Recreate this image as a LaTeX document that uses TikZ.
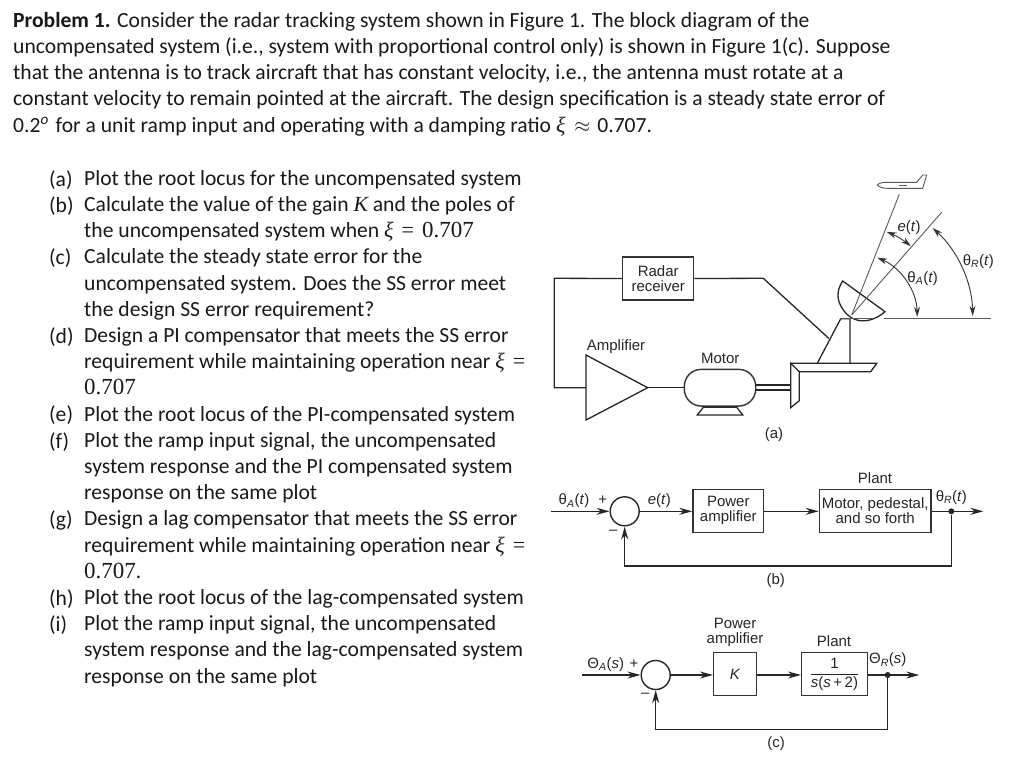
\documentclass[tikz,border=0pt]{standalone}
\usepackage[no-math]{fontspec}
\setmainfont{Carlito}
\newfontfamily\figfont{Liberation Sans}
\newfontfamily\eqfont{Liberation Serif}
\usetikzlibrary{arrows.meta}
\newcommand{\sigsub}[3]{#1\textsubscript{\textit{#2}}(\textit{#3})}
\newcommand{\eqxi}{{\eqfont\fontsize{22}{26.2}\selectfont\itshape ξ}}
\newcommand{\eqval}{{\eqfont\fontsize{23}{26.2}\selectfont 0.707}}
\newcommand{\eqsign}{\hspace{8pt}{\eqfont\fontsize{22}{26.2}\selectfont =}\hspace{8pt}}

\begin{document}
\begin{tikzpicture}[
x=1pt, y=1pt,
bodytext/.style={
	anchor=north west, inner sep=0pt, align=left, text=black!90,
	font=\fontsize{21.6}{26.2}\selectfont,
},
figlabel/.style={inner sep=0pt, align=center, text=black!85, font=\figfont\fontsize{15}{15}\selectfont},
blockbox/.style={draw=black!80, line width=1.4pt, inner sep=0pt, align=center, text=black!85, font=\figfont\fontsize{15}{15}\selectfont},
sumnode/.style={circle, draw=black!85, line width=1.4pt, inner sep=0pt, minimum size=29pt},
takeoff/.style={circle, fill=black!85, inner sep=0pt, minimum size=6pt},
wire/.style={draw=black!85, line width=1.3pt},
thinwire/.style={draw=black!65, line width=0.9pt},
sigline/.style={draw=black!85, line width=1.3pt, -{Stealth[length=13pt,width=7pt]}},
anglearc/.style={draw=black!80, line width=0.9pt, {Stealth[length=10pt,width=6pt]}-{Stealth[length=10pt,width=6pt]}},
]
\useasboundingbox (0,0) rectangle (1024,-757);

\node[bodytext] (problem) at (13,-12) {%
    \textbf{Problem 1.} Consider the radar tracking system shown in Figure 1. The block diagram of the\\
    uncompensated system (i.e., system with proportional control only) is shown in Figure 1(c). Suppose\\
    that the antenna is to track aircraft that has constant velocity, i.e., the antenna must rotate at a\\
    constant velocity to remain pointed at the aircraft. The design specification is a steady state error of\\
    0.2\textsuperscript{\textit{o}}\hspace{2pt} for a unit ramp input and operating with a damping ratio \eqxi\hspace{4pt} $\approx$\hspace{2pt} 0.707.
    };
\node[bodytext] (itemtags) at (49,-170) {%
    (a)\\(b)\\ \mbox{}\\(c)\\ \mbox{}\\ \mbox{}\\(d)\\ \mbox{}\\ \mbox{}\\(e)\\(f)\\ \mbox{}\\ \mbox{}\\(g)\\ \mbox{}\\ \mbox{}\\(h)\\(i)
    };
\node[bodytext] (itemtext) at (84,-170) {%
    Plot the root locus for the uncompensated system\\
    Calculate the value of the gain {\eqfont\itshape K} and the poles of\\
    the uncompensated system when \eqxi\eqsign\eqval\\
    Calculate the steady state error for the\\
    uncompensated system. Does the SS error meet\\
    the design SS error requirement?\\
    Design a PI compensator that meets the SS error\\
    requirement while maintaining operation near \eqxi\eqsign\\
    \eqval\\
    Plot the root locus of the PI-compensated system\\
    Plot the ramp input signal, the uncompensated\\
    system response and the PI compensated system\\
    response on the same plot\\
    Design a lag compensator that meets the SS error\\
    requirement while maintaining operation near \eqxi\eqsign\\
    \eqval.\\
    Plot the root locus of the lag-compensated system\\
    Plot the ramp input signal, the uncompensated\\
    system response and the lag-compensated system\\
    response on the same plot
    };

% figure (a)
\node[blockbox, minimum width=71pt, minimum height=43pt] (radar) at (658.2,-278.5) {Radar\\receiver};
\coordinate (ampin) at (586,-387.7);
\coordinate (ampout) at (647.7,-387.7);
\node[blockbox, rounded corners=17pt, minimum width=71.4pt, minimum height=36.7pt] (motor) at (720,-387.7) {};
\coordinate (loopa) at (554.3,-278.3);
\coordinate (loopb) at (554.3,-387.7);
\coordinate (bend) at (763.3,-278.3);
\coordinate (pedestal) at (828.7,-338.3);
\coordinate (focus) at (851.7,-315);
\coordinate (beamA) at (899.3,-194.3);
\coordinate (beamR) at (941.7,-212.3);
\draw[wire] (radar.west) -- (loopa) -- (loopb) -- (ampin);
\draw[wire] (radar.east) -- (bend) -- (pedestal);
\draw[wire] (586,-355) -- (ampout) -- (586,-420) -- cycle;
\draw[wire] (ampout) -- (motor.west);
\draw[wire] (697.3,-415) -- (742.7,-415) -- (736.7,-407.3) -- (703.3,-407.3) -- cycle;
\draw[wire] (755.7,-385) -- (790.7,-385) (755.7,-390) -- (790.7,-390);
\draw[wire] (790.7,-363.3) -- (790.7,-407.7) -- (799.3,-400.7) -- (799.3,-371.7) -- cycle;
\draw[wire] (790.7,-363.3) -- (876.7,-363.3) -- (870.7,-371.7) -- (799.3,-371.7);
\draw[wire] (817.3,-363.3) -- (840.7,-318.7) -- (850,-318.7) -- (850,-363.3);
\draw[wire] (842.7,-281) -- (885,-311.7) .. controls (872,-323) and (853,-326) .. (842,-308) .. controls (837,-300) and (836,-291) .. cycle;
\draw[thinwire] (840,-318.7) -- (873,-318.7) (884,-318.7) -- (990.7,-318.7);
\draw[thinwire] (focus) -- (beamA);
\draw[thinwire] (focus) -- (beamR);
\draw[anglearc] (851.7,-318)++(48:121) arc (48:1:121);
\draw[anglearc] (851.7,-318)++(67:65.5) arc (67:1:65.5);
\draw[anglearc] (851.7,-318)++(68:93) arc (68:50.5:93);
\draw[thinwire, fill=white] (877.3,-185) .. controls (879,-183) and (883,-182.3) .. (886.7,-182.3) -- (916.7,-182.3) -- (922.7,-175) -- (926.7,-175) -- (922.7,-188.3) -- (886.7,-188.3) .. controls (883,-188.3) and (879,-187) .. cycle;
\draw[thinwire] (899,-185.3) -- (906.7,-185.3);
\node[figlabel] (amplabel) at (616,-347) {Amplifier};
\node[figlabel] (motorlabel) at (720.3,-358.5) {Motor};
\node[figlabel] (errlabel) at (909,-227.3) {\textit{e}(\textit{t})};
\node[figlabel] (thetaA) at (922.7,-278.3) {\sigsub{θ}{A}{t}};
\node[figlabel] (thetaR) at (978.3,-261.7) {\sigsub{θ}{R}{t}};
\node[figlabel] (capa) at (774,-435) {(a)};

% figure (b)
\coordinate (inb) at (550.7,-511.3);
\coordinate (outb) at (983.3,-511.3);
\node[sumnode] (sumb) at (624.7,-511.3) {};
\node[blockbox, minimum width=70.7pt, minimum height=43pt] (powerb) at (728.3,-510.8) {Power\\amplifier};
\node[blockbox, minimum width=111.7pt, minimum height=43pt] (plantb) at (875.2,-510.8) {Motor, pedestal,\\and so forth};
\node[takeoff] (dotb) at (951.3,-511.3) {};
\coordinate (cornerb) at (951.3,-566);
\coordinate (backb) at (624.7,-566);
\draw[sigline] (inb) -- (sumb);
\draw[sigline] (sumb) -- (powerb.west |- sumb);
\draw[sigline] (powerb.east |- sumb) -- (plantb.west |- sumb);
\draw[sigline] (plantb.east |- sumb) -- (outb);
\draw[sigline] (dotb) -- (cornerb) -- (backb) -- (sumb);
\node[figlabel] at (574,-501) (inlabelb) {\sigsub{θ}{A}{t}};
\node[figlabel] at (602.7,-500) (plusb) {+};
\node[figlabel] at (613.3,-532.7) (minusb) {–};
\node[figlabel] at (659.3,-501) (errb) {\textit{e}(\textit{t})};
\node[figlabel] at (875,-478.3) (plantlabelb) {Plant};
\node[figlabel] at (951.3,-497.7) (outlabelb) {\sigsub{θ}{R}{t}};
\node[figlabel] at (775.7,-580.7) (capb) {(b)};

% figure (c)
\coordinate (inc) at (581.7,-675);
\coordinate (outc) at (919.3,-675);
\node[sumnode] (sumc) at (655.7,-675) {};
\node[blockbox, minimum width=43pt, minimum height=43pt] (powerc) at (735.2,-674.2) {\textit{K}};
\node[blockbox, minimum width=65.6pt, minimum height=43pt] (plantc) at (834.5,-674.2) {$\displaystyle\frac{\mbox{1}}{\mbox{\textit{s}(\textit{s}\,+\,2)}}$};
\node[takeoff] (dotc) at (887.7,-675) {};
\coordinate (cornerc) at (887.7,-729.3);
\coordinate (backc) at (655.7,-729.3);
\draw[sigline] (inc) -- (sumc);
\draw[sigline] (sumc) -- (powerc.west |- sumc);
\draw[sigline] (powerc.east |- sumc) -- (plantc.west |- sumc);
\draw[sigline] (plantc.east |- sumc) -- (outc);
\draw[sigline] (dotc) -- (cornerc) -- (backc) -- (sumc);
\node[figlabel] at (605.7,-664.3) (inlabelc) {\sigsub{Θ}{A}{s}};
\node[figlabel] at (634,-664.3) (plusc) {+};
\node[figlabel] at (645.3,-695.7) (minusc) {–};
\node[figlabel] at (735,-632.5) (powerlabelc) {Power\\amplifier};
\node[figlabel] at (834,-641) (plantlabelc) {Plant};
\node[figlabel] at (887.7,-660) (outlabelc) {\sigsub{Θ}{R}{s}};
\node[figlabel] at (776,-744) (capc) {(c)};
\end{tikzpicture}
\end{document}
